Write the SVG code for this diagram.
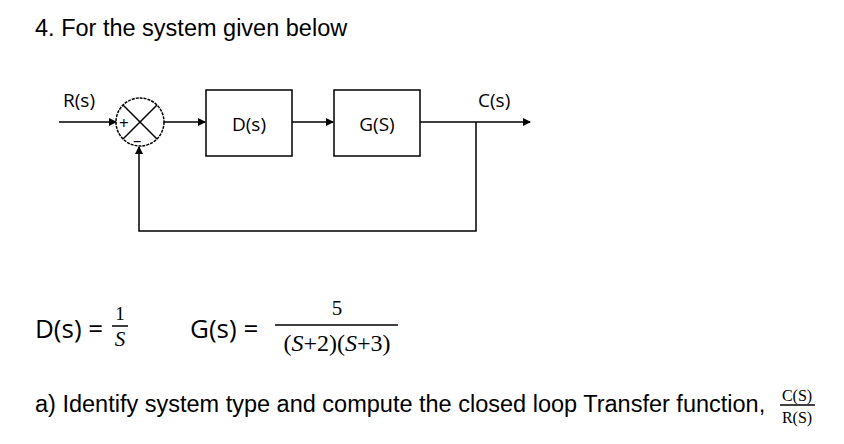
<svg xmlns="http://www.w3.org/2000/svg" width="844" height="444" viewBox="0 0 844 444">
<style>
.t{font-family:"Liberation Sans",Arial,sans-serif;fill:#000}
.s{font-family:"Open Sans","DejaVu Sans",sans-serif;fill:#000}
.m{font-family:"Liberation Serif","DejaVu Serif",serif;fill:#000}
.l{stroke:#000;stroke-width:1.5;fill:none}
</style>
<defs><marker id="a" markerWidth="8" markerHeight="8" refX="7" refY="4" orient="auto" markerUnits="userSpaceOnUse"><path d="M0,0L8,4L0,8z"/></marker></defs>
<rect width="844" height="444" fill="#fff"/>
<text class="t" x="35" y="36" font-size="23.5">4.  For the system given below</text>
<g id="sum"><circle cx="140" cy="122" r="24" fill="#fff" stroke="#000" stroke-width="1.5" stroke-dasharray="3 1"/>
<path class="l" d="M123,105L157,139M157,105L123,139"/>
<text class="s" x="119" y="129" font-size="17">+</text><text class="s" x="133" y="146" font-size="17">–</text></g>
<g id="D"><rect x="206" y="90" width="86" height="66" fill="#fff" stroke="#000" stroke-width="1.5"/><text class="s" x="249" y="131" font-size="19" text-anchor="middle">D(s)</text></g>
<g id="G"><rect x="334" y="90" width="86" height="66" fill="#fff" stroke="#000" stroke-width="1.5"/><text class="s" x="377" y="131" font-size="19" text-anchor="middle">G(S)</text></g>
<g id="conn">
<path class="l" d="M59,122H116" marker-end="url(#a)"/>
<path class="l" d="M164,122H205" marker-end="url(#a)"/>
<path class="l" d="M292,122H333" marker-end="url(#a)"/>
<path class="l" d="M420,122H530" marker-end="url(#a)"/>
<path class="l" d="M476,122V231H139V147" marker-end="url(#a)"/>
</g>
<text class="s" x="63" y="107" font-size="19">R(s)</text>
<text class="s" x="478" y="107" font-size="19">C(s)</text>
<text class="s" x="35" y="338" font-size="26">D(s) = </text>
<text class="m" x="120" y="320" font-size="19" text-anchor="middle">1</text>
<line x1="112" y1="326" x2="128" y2="326" stroke="#000" stroke-width="1.5"/>
<text class="m" x="120" y="346" font-size="21" font-style="italic" text-anchor="middle">S</text>
<text class="s" x="190" y="338" font-size="26">G(s) =</text>
<text class="m" x="337" y="315" font-size="21" text-anchor="middle">5</text>
<line x1="275" y1="325" x2="398" y2="325" stroke="#000" stroke-width="1.5"/>
<text class="m" x="337" y="351" font-size="24" text-anchor="middle">(<tspan font-style="italic">S</tspan>+2)(<tspan font-style="italic">S</tspan>+3)</text>
<text class="t" x="35" y="412" font-size="23.5">a)  Identify system type and compute the closed loop Transfer function,</text>
<text class="m" x="797" y="401" font-size="16" text-anchor="middle">C(S)</text>
<line x1="780" y1="405" x2="815" y2="405" stroke="#000" stroke-width="1.5"/>
<text class="m" x="797" y="423" font-size="16" text-anchor="middle">R(S)</text>
</svg>
